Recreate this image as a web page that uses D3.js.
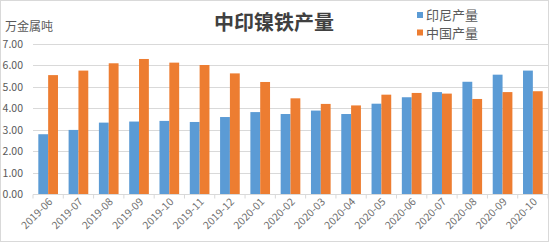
<!DOCTYPE html>
<html>
<head>
<meta charset="utf-8">
<script src="https://cdn.jsdelivr.net/npm/d3@7"></script>
<style>
  body { margin: 0; background: #fff; }
  text { font-family: "Noto Sans CJK SC", "Liberation Sans", sans-serif; }
</style>
</head>
<body>
<script>
const months = ["2019-06","2019-07","2019-08","2019-09","2019-10","2019-11","2019-12",
  "2020-01","2020-02","2020-03","2020-04","2020-05","2020-06","2020-07","2020-08","2020-09","2020-10"];
const indonesia = [2.78,2.98,3.32,3.37,3.40,3.35,3.58,3.81,3.72,3.88,3.72,4.20,4.50,4.74,5.22,5.55,5.74];
const china = [5.53,5.74,6.08,6.28,6.11,6.00,5.61,5.21,4.45,4.19,4.12,4.62,4.70,4.67,4.42,4.74,4.78];
const seriesNames = ["印尼产量", "中国产量"];
const colors = ["#5B9BD5", "#ED7D31"];
const yTicks = [0,1,2,3,4,5,6,7];

const width = 550, height = 246;
const svg = d3.select("body").append("svg")
  .attr("width", width).attr("height", height);

// chart border
svg.append("rect")
  .attr("x", 0.5).attr("y", 0.5)
  .attr("width", width - 2).attr("height", height - 5)
  .attr("fill", "#fff").attr("stroke", "#d9d9d9");

const x = d3.scaleBand().domain(months).range([33, 548]);
const y = d3.scaleLinear().domain([0, 7]).range([194, 43.5]);
const inner = d3.scaleBand().domain([0, 1]).range([0, x.bandwidth()]).paddingInner(0).paddingOuter(0.54);

// grid lines
svg.append("g").selectAll("line")
  .data(yTicks)
  .join("line")
  .attr("x1", 33).attr("x2", 548)
  .attr("y1", d => Math.round(y(d)) + 0.5).attr("y2", d => Math.round(y(d)) + 0.5)
  .attr("stroke", "#d9d9d9");

// y labels
svg.append("g").selectAll("text")
  .data(yTicks)
  .join("text")
  .attr("x", 23).attr("y", d => y(d) + 4)
  .attr("text-anchor", "end")
  .attr("font-size", 10.5)
  .attr("fill", "#595959")
  .text(d => d.toFixed(2));

// bars
const data = months.map((m, i) => ({ m, vals: [indonesia[i], china[i]] }));
const groups = svg.append("g").selectAll("g")
  .data(data)
  .join("g")
  .attr("transform", d => `translate(${x(d.m)},0)`);
groups.selectAll("rect")
  .data(d => d.vals)
  .join("rect")
  .attr("x", (d, i) => inner(i))
  .attr("width", inner.bandwidth())
  .attr("y", d => y(d))
  .attr("height", d => y(0) - y(d))
  .attr("fill", (d, i) => colors[i]);

// x axis
const xAxis = svg.append("g").attr("transform", `translate(0,${Math.round(y(0)) + 0.5})`);
xAxis.append("line").attr("x1", 33).attr("x2", 548).attr("stroke", "#d9d9d9");
xAxis.selectAll(".tk")
  .data(months.concat(["end"]))
  .join("line")
  .attr("x1", (d, i) => 33 + i * x.step()).attr("x2", (d, i) => 33 + i * x.step())
  .attr("y1", 0).attr("y2", 4)
  .attr("stroke", "#d9d9d9");
xAxis.selectAll("text")
  .data(months)
  .join("text")
  .attr("transform", d => `translate(${x(d) + x.bandwidth() / 2 + 5},8) rotate(-45)`)
  .attr("text-anchor", "end")
  .attr("font-size", 10.5)
  .attr("fill", "#6f6f6f")
  .text(d => d);

// title
svg.append("text")
  .attr("x", 274).attr("y", 30)
  .attr("text-anchor", "middle")
  .attr("font-size", 20).attr("font-weight", "bold")
  .attr("fill", "#404040")
  .text("中印镍铁产量");

// unit
svg.append("text")
  .attr("x", 5).attr("y", 31)
  .attr("font-size", 12)
  .attr("fill", "#595959")
  .text("万金属吨");

// legend
const legend = svg.append("g").selectAll("g")
  .data(seriesNames)
  .join("g")
  .attr("transform", (d, i) => `translate(417,${15 + i * 17.5})`);
legend.append("rect")
  .attr("x", 0).attr("y", -3).attr("width", 6).attr("height", 6)
  .attr("fill", (d, i) => colors[i]);
legend.append("text")
  .attr("x", 9).attr("y", 5)
  .attr("font-size", 13)
  .attr("fill", "#595959")
  .text(d => d);
</script>
</body>
</html>
